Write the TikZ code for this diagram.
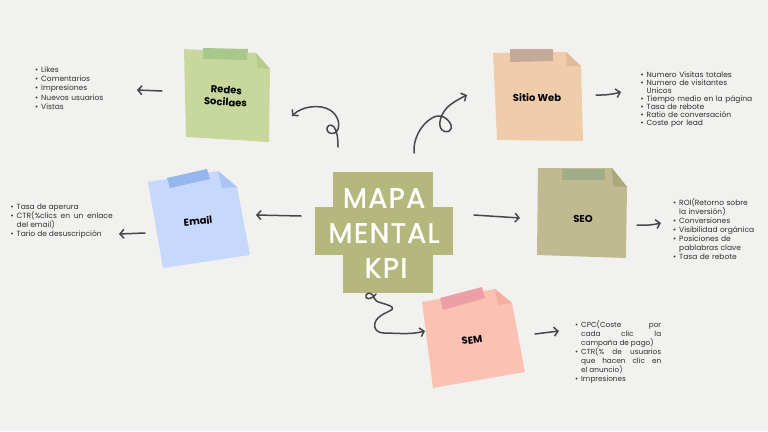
\documentclass[tikz,border=0pt]{standalone}
\usepackage{fontspec}
\setmainfont{Poppins}
\newfontfamily\titlefont[LetterSpace=5, FakeBold=1.2]{Poppins}
\usetikzlibrary{arrows.meta}

\definecolor{paper}{HTML}{F1F1EF}
\definecolor{ink}{HTML}{474747}
\definecolor{listink}{HTML}{2E2E2E}
\definecolor{olive}{HTML}{B5B87C}
\definecolor{redesfill}{HTML}{C8D89D}
\definecolor{redestape}{HTML}{A8C98B}
\definecolor{redesfold}{HTML}{B6CC8A}
\definecolor{webfill}{HTML}{F0CDAA}
\definecolor{webtape}{HTML}{C7A99B}
\definecolor{webfold}{HTML}{E2BA98}
\definecolor{mailfill}{HTML}{C6D8FB}
\definecolor{mailtape}{HTML}{95B6EE}
\definecolor{mailfold}{HTML}{AAC5F4}
\definecolor{seofill}{HTML}{BFBA8F}
\definecolor{seotape}{HTML}{A3AC89}
\definecolor{seofold}{HTML}{ACA67B}
\definecolor{semfill}{HTML}{FBC2B3}
\definecolor{semtape}{HTML}{EE9FA6}
\definecolor{semfold}{HTML}{F4AFA0}

\newcommand{\kpiitem}[1]{\par\hangindent=6pt\hangafter=1\noindent\makebox[6pt][l]{\textbullet}#1}

\tikzset{
  arr/.style={ink, line width=1.5pt, line cap=round, line join=round,
    -{Straight Barb[length=4pt,width=9pt]}},
  notelabel/.style={font=\bfseries\fontsize{10}{12.5}\selectfont, align=center, inner sep=1pt},
  kpilist/.style={anchor=north west, inner sep=0pt, text=listink, align=left},
  titletext/.style={font=\titlefont\fontsize{28}{28}\selectfont, text=white, inner sep=0pt},
}

\begin{document}
\begin{tikzpicture}[x=1pt, y=-1pt]
\fill[paper] (0,0) rectangle (768,431);
\useasboundingbox (0,0) rectangle (768,431);

% title blocks
\fill[olive] (333,172) rectangle (433,209);
\fill[olive] (315,207) rectangle (453,255);
\fill[olive] (343,253) rectangle (433,293);
\node[titletext] (mapa) at (384,198) {MAPA};
\node[titletext] (mental) at (384,233) {MENTAL};
\node[titletext] (kpi) at (386,268) {KPI};

% sticky notes
\fill[redesfill] (184,49) -- (256,53) -- (270,69) -- (269,142) -- (186,137) -- cycle;
\fill[redesfold] (256,53) -- (270,69) -- (257,68) -- cycle;
\fill[redestape] (203,48) -- (248,49) -- (247,60) -- (203,59) -- cycle;
\node[notelabel, rotate=-4] (redes) at (226,96) {Redes\\Socilaes};

\fill[webfill] (493,53) -- (566,52) -- (581,66) -- (583,141) -- (497,140) -- cycle;
\fill[webfold] (566,52) -- (581,66) -- (567,66) -- cycle;
\fill[webtape] (510,49) -- (553,49) -- (553,61) -- (510,62) -- cycle;
\node[notelabel] (web) at (537,98) {Sitio Web};

\fill[mailfill] (148,182) -- (218,171) -- (237,187) -- (250,255) -- (163,268) -- cycle;
\fill[mailfold] (218,171) -- (237,187) -- (222,188) -- cycle;
\fill[mailtape] (167,178) -- (207,169) -- (210,179) -- (170,188) -- cycle;
\node[notelabel, rotate=6] (email) at (198,221) {Email};

\fill[seofill] (538,168) -- (612,168) -- (627,187) -- (626,258) -- (537,255) -- cycle;
\fill[seofold] (612,168) -- (627,187) -- (613,186) -- cycle;
\fill[seotape] (562,169) -- (605,169) -- (605,180) -- (562,180) -- cycle;
\node[notelabel] (seo) at (583,219) {SEO};

\fill[semfill] (422,302) -- (495,289) -- (512,303) -- (525,372) -- (433,388) -- cycle;
\fill[semfold] (495,289) -- (512,303) -- (498,305) -- cycle;
\fill[semtape] (440,298) -- (482,287) -- (485,298) -- (443,310) -- cycle;
\node[notelabel, rotate=8] (sem) at (472,340) {SEM};

% lists
\node[kpilist, text width=100pt, font=\fontsize{7.5}{9.2}\selectfont] (redeslist) at (35,63) {
  \kpiitem{Likes}
  \kpiitem{Comentarios}
  \kpiitem{Impresiones}
  \kpiitem{Nuevos usuarios}
  \kpiitem{Vistas}};
\node[kpilist, text width=125pt, font=\fontsize{7.5}{8.1}\selectfont] (weblist) at (640.5,69) {
  \kpiitem{Numero Visitas totales}
  \kpiitem{Numero de visitantes\newline Unicos}
  \kpiitem{Tiempo medio en la página}
  \kpiitem{Tasa de rebote}
  \kpiitem{Ratio de conversación}
  \kpiitem{Coste por lead}};
\node[kpilist, align=justify, text width=102pt, font=\fontsize{7.5}{9}\selectfont] (maillist) at (10.5,200) {
  \kpiitem{Tasa de aperura}
  \kpiitem{CTR(\%clics en un enlace\linebreak del email)}
  \kpiitem{Tario de desuscripción}};
\node[kpilist, text width=100pt, font=\fontsize{7.5}{9.1}\selectfont] (seolist) at (673,196) {
  \kpiitem{ROI(Retorno sobre\newline la inversión)}
  \kpiitem{Conversiones}
  \kpiitem{Visibilidad orgánica}
  \kpiitem{Posiciones de\newline pablabras clave}
  \kpiitem{Tasa de rebote}};
\node[kpilist, align=justify, text width=86pt, font=\fontsize{7.3}{9.1}\selectfont] (semlist) at (575,318) {
  \kpiitem{CPC(Coste por\linebreak cada clic la\linebreak campaña de pago)}
  \kpiitem{CTR(\% de usuarios\linebreak que hacen clic en\linebreak el anuncio)}
  \kpiitem{Impresiones}};

% arrow ends
\coordinate (redesA) at (162,91);  \coordinate (redesB) at (137,90);
\coordinate (webA) at (596,95);    \coordinate (webB) at (621,92);
\coordinate (mailA) at (145,233);  \coordinate (mailB) at (119,234);
\coordinate (leftA) at (301,216);  \coordinate (leftB) at (256,215);
\coordinate (rightA) at (474,215); \coordinate (rightB) at (520,218);
\coordinate (seoA) at (637,225);   \coordinate (seoB) at (661,223);
\coordinate (semA) at (535,334);   \coordinate (semB) at (559,331);
\coordinate (curlA) at (338,147);  \coordinate (curlB) at (292,116);
\coordinate (curlC) at (414,153);  \coordinate (curlD) at (467,95);
\coordinate (curlE) at (376,294);  \coordinate (curlF) at (425,331);

\draw[arr] (redesA) -- (redesB);
\draw[arr] (webA) to[bend right=8] (webB);
\draw[arr] (mailA) -- (mailB);
\draw[arr] (leftA) -- (leftB);
\draw[arr] (rightA) -- (rightB);
\draw[arr] (seoA) to[bend right=8] (seoB);
\draw[arr] (semA) -- (semB);

% curly ones
\draw[arr] (curlA) .. controls (338,138) and (337,131) .. (334,127)
  .. controls (331,123) and (326,126) .. (327,130)
  .. controls (328,134) and (334,135) .. (337,131)
  .. controls (341,125) and (338,115) .. (330,110)
  .. controls (320,104) and (302,106) .. (curlB);
\draw[arr] (curlC) .. controls (413,140) and (420,125) .. (432,118)
  .. controls (440,113) and (448,118) .. (451,125)
  .. controls (453,131) and (446,134) .. (442,130)
  .. controls (437,125) and (441,112) .. (450,105)
  .. controls (455,101) and (461,98) .. (curlD);
\draw[arr] (curlE) .. controls (372,300) and (364,300) .. (366,295)
  .. controls (368,291) and (374,294) .. (374,298)
  .. controls (375,303) and (386,303) .. (392,307)
  .. controls (396,310) and (384,312) .. (378,318)
  .. controls (372,324) and (374,333) .. (384,333)
  .. controls (395,333) and (410,335) .. (curlF);
\end{tikzpicture}
\end{document}
